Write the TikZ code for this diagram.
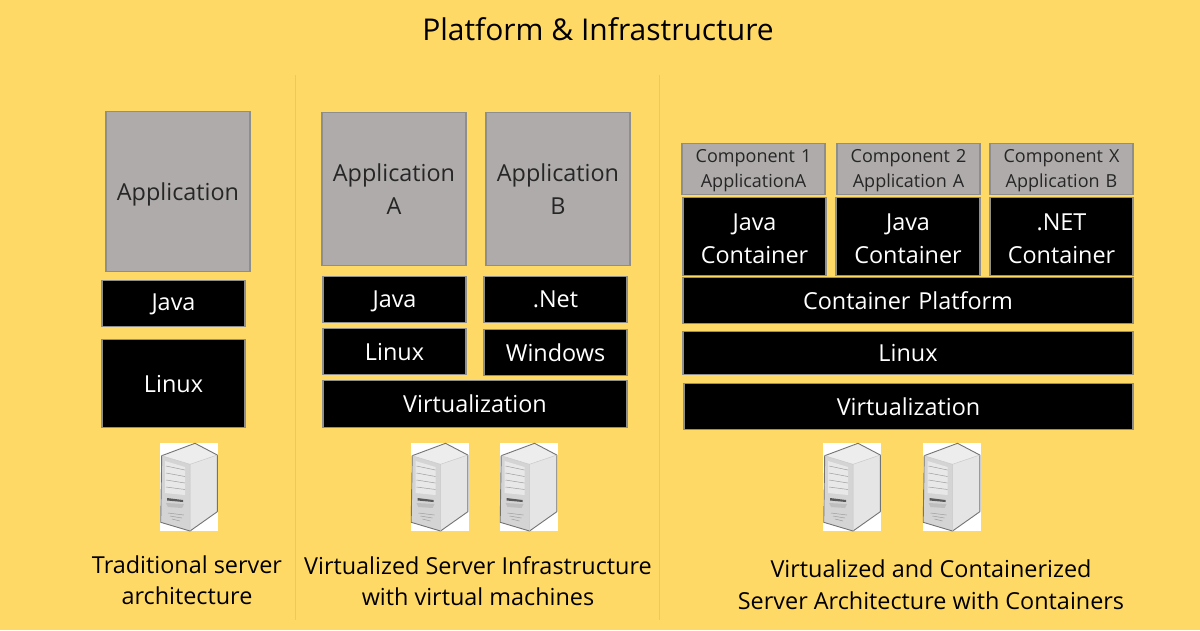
\documentclass[tikz,border=0pt]{standalone}
\usepackage{fontspec}
\setmainfont{Open Sans}
\definecolor{bgy}{HTML}{FFD966}
\definecolor{appg}{HTML}{AFABAB}
\definecolor{edgeg}{HTML}{8E8E8E}
\definecolor{divg}{HTML}{D9C98F}
\newcommand{\fs}[1]{\fontsize{#1}{#1}\selectfont}
\tikzset{
 box/.style={draw=edgeg,line width=1.2pt,inner sep=0pt,align=center,anchor=north west},
 app/.style={box,fill=appg,text=black!85,font=\fs{23.4}},
 comp/.style={box,fill=appg,text=black!85,font=\fs{18},execute at begin node={\baselineskip=25pt}},
 blk/.style={box,fill=black,text=white,font=\fs{23.4}},
 captxt/.style={align=center,font=\fs{23.4},text=black,inner sep=0pt},
 divider/.style={draw=divg,line width=1pt},
 srvline/.style={draw=black!38,line width=.5pt}
}
\newcommand{\bx}[8]{\node[#2,minimum width=#5pt-#3pt,minimum height=#6pt-#4pt,text width=#5pt-#3pt,xshift=-.6pt,#8] (#1) at (#3,#4) {#7};}
\newcommand{\srv}[3]{%
 \begin{scope}[shift={(#2,#3)}]
 \node[fill=white,minimum width=58pt,minimum height=88pt,inner sep=0pt,anchor=north west] (#1) at (0,0) {};
 \fill[black!10] (30,21.3) -- (57.3,12) -- (57.3,68.7) -- (30,88) -- cycle;
 \fill[black!17] (1.7,12.7) -- (30,21.3) -- (30,88) -- (0.7,79.3) -- cycle;
 \fill[black!7] (1.7,12.7) -- (35,.3) -- (57.3,12) -- (30,21.3) -- cycle;
 \draw[black!55,line width=.9pt,line join=round] (1.7,12.7) -- (35,.3) -- (57.3,12) -- (57.3,68.7) -- (30,88) -- (.7,79.3) -- cycle;
 \draw[black!22,line width=.5pt] (1.7,12.7) -- (30,21.3) -- (57.3,12) (30,21.3) -- (30,88);
 \fill[black!9] (5,18) -- (25,24) -- (25,52) -- (5,50) -- cycle;
 \foreach \k in {0,1,2,3} \draw[srvline] (6,{23+\k*7}) -- (25,{27+\k*6.5});
 \fill[black!65] (7,55) -- (23,57) -- (23,59) -- (7,57.5) -- cycle;
 \fill[black!25] (6,60) -- (24,61) -- (22,65) -- (8,64) -- cycle;
 \foreach \k/\a/\b in {0/8/24,1/10/22,2/12/20} \draw[srvline] (\a,{70+\k*3}) -- (\b,{72+\k*3});
 \end{scope}}
\begin{document}
\begin{tikzpicture}[x=1pt,y=-1pt]
\useasboundingbox (0,0) rectangle (1200,630);
\fill[bgy] (0,0) rectangle (1200,630);
\node[font=\fs{30},text=black,inner sep=0pt] (title) at (598,29) {Platform \& Infrastructure};
\coordinate (d1a) at (295.5,75); \coordinate (d1b) at (295.5,620);
\coordinate (d2a) at (659.5,75); \coordinate (d2b) at (659.5,620);
\draw[divider] (d1a) -- (d1b);
\draw[divider] (d2a) -- (d2b);
% column 1
\bx{a1}{app}{106}{111}{250}{271}{Application\vspace{-6pt}}{}
\bx{j1}{blk}{102}{280}{245}{326}{Java\vspace{-2pt}}{}
\bx{l1}{blk}{102}{339}{245}{427}{Linux}{}
% column 2
\bx{a2}{app}{322}{112}{466}{265}{Application\\[9pt]A}{}
\bx{a3}{app}{486}{112}{630}{265}{Application\\[9pt]B}{}
\bx{j2}{blk}{323}{276}{466}{322}{Java\vspace{-4pt}}{}
\bx{n2}{blk}{484}{276}{627}{322}{.Net}{}
\bx{l2}{blk}{323}{328}{466}{374}{Linux}{}
\bx{w2}{blk}{484}{329}{627}{375}{Windows}{}
\bx{v2}{blk}{323}{380}{627}{427}{Virtualization}{}
% column 3
\bx{c1}{comp}{682}{143}{825}{194}{Component 1\\ApplicationA\vspace{-4pt}}{}
\bx{c2}{comp}{837}{143}{980}{194}{Component 2\\Application A\vspace{-4pt}}{}
\bx{c3}{comp}{990}{143}{1133}{194}{Component X\\Application B\vspace{-4pt}}{}
\bx{k1}{blk}{683}{197}{826}{275}{Java\\[9pt]Container\vspace{-4pt}}{}
\bx{k2}{blk}{836}{197}{980}{275}{Java\\[9pt]Container\vspace{-4pt}}{}
\bx{k3}{blk}{990}{197}{1133}{275}{.NET\\[9pt]Container\vspace{-4pt}}{}
\bx{cp}{blk}{683}{277}{1133}{323}{Container Platform}{}
\bx{l3}{blk}{683}{331}{1133}{374}{Linux}{}
\bx{v3}{blk}{684}{383}{1133}{429}{Virtualization}{}
% servers
\srv{s1}{160}{443}
\srv{s2}{410.5}{443}
\srv{s3}{499.5}{443}
\srv{s4}{823}{443}
\srv{s5}{922.5}{443}
% captions
\node[captxt] (t1) at (187,580) {Traditional server\\[8pt]architecture};
\node[captxt] (t2) at (478,581) {Virtualized Server Infrastructure\\[8pt]with virtual machines};
\node[captxt] (t3) at (931,585) {Virtualized and Containerized\\[9pt]Server Architecture with Containers};
\end{tikzpicture}
\end{document}
